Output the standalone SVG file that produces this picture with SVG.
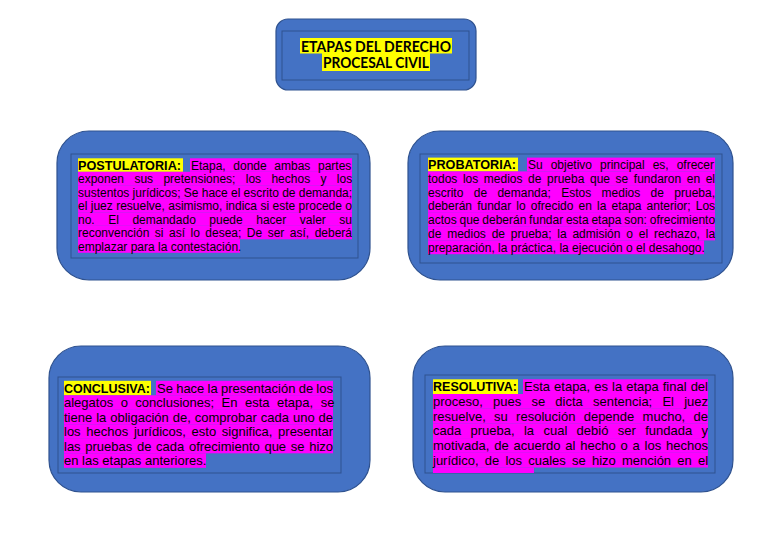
<svg xmlns="http://www.w3.org/2000/svg" width="768" height="543" viewBox="0 0 768 543">
<style>
.box{fill:#4472C4;stroke:#2F528F;stroke-width:1.2}
.inner{fill:none;stroke:#2F528F;stroke-width:1}
.hm{fill:#FF00FF}
.hy{fill:#FFFF00}
.t{font-family:"Liberation Sans",Arial,sans-serif;font-size:12px;fill:#000}
.t13{font-family:"Liberation Sans",Arial,sans-serif;font-size:13px;fill:#000}
.h{font-family:"Liberation Sans",Arial,sans-serif;font-weight:bold;font-size:13.5px;fill:#000}
.ti{font-family:Lato,"Liberation Sans",Arial,sans-serif;font-weight:bold;font-size:15px;fill:#000}
</style>
<rect width="768" height="543" fill="#fff"/>
<g id="connectors"></g>

<g id="title">
<rect class="box" x="276" y="19" width="200" height="71" rx="12"/>
<rect class="inner" x="282" y="31" width="187" height="49"/>
<rect class="hy" x="300" y="38" width="152" height="15.5"/>
<rect class="hy" x="322" y="53" width="108" height="18"/>
<text class="ti" x="301" y="51.5" textLength="150" lengthAdjust="spacingAndGlyphs">ETAPAS DEL DERECHO</text>
<text class="ti" x="323" y="68" textLength="106" lengthAdjust="spacingAndGlyphs">PROCESAL CIVIL</text>
</g>

<g id="postulatoria">
<rect class="box" x="57" y="131" width="313" height="149" rx="32"/>
<rect class="inner" x="71" y="154" width="287" height="104"/>
<rect class="hy" x="78" y="158.3" width="105" height="13.5"/>
<rect class="hm" x="190" y="158.3" width="162" height="13.5"/>
<rect class="hm" x="78" y="171.8" width="274" height="13.5"/>
<rect class="hm" x="78" y="185.3" width="274" height="13.5"/>
<rect class="hm" x="78" y="198.8" width="274" height="13.5"/>
<rect class="hm" x="78" y="212.3" width="274" height="13.5"/>
<rect class="hm" x="78" y="225.8" width="274" height="13.5"/>
<rect class="hm" x="78" y="239.3" width="162" height="13.5"/>
<text class="h" x="78" y="169.5" textLength="103" lengthAdjust="spacingAndGlyphs">POSTULATORIA:</text>
<text class="t" x="191" y="169.5" word-spacing="4.3">Etapa, donde ambas partes</text>
<text class="t" x="78" y="183" word-spacing="7">exponen sus pretensiones; los hechos y los</text>
<text class="t" x="78" y="196.5" word-spacing="-0.1">sustentos jurídicos; Se hace el escrito de demanda;</text>
<text class="t" x="78" y="210" word-spacing="0.07">el juez resuelve, asimismo, indica si este procede o</text>
<text class="t" x="78" y="223.5" word-spacing="10.2">no. El demandado puede hacer valer su</text>
<text class="t" x="78" y="237" word-spacing="2.15">reconvención si así lo desea; De ser así, deberá</text>
<text class="t" x="78" y="250.5">emplazar para la contestación.</text>
</g>

<g id="probatoria">
<rect class="box" x="408" y="131" width="325" height="149" rx="32"/>
<rect class="inner" x="420" y="154" width="302" height="109"/>
<rect class="hy" x="428" y="157.6" width="90" height="13.8"/>
<rect class="hm" x="527" y="157.6" width="188" height="13.8"/>
<rect class="hm" x="428" y="171.4" width="287" height="13.8"/>
<rect class="hm" x="428" y="185.2" width="287" height="13.8"/>
<rect class="hm" x="428" y="199" width="287" height="13.8"/>
<rect class="hm" x="428" y="212.8" width="287" height="13.8"/>
<rect class="hm" x="428" y="226.6" width="287" height="13.8"/>
<rect class="hm" x="428" y="240.4" width="276" height="13.8"/>
<text class="h" x="428" y="169" textLength="88" lengthAdjust="spacingAndGlyphs">PROBATORIA:</text>
<text class="t" x="528" y="169" word-spacing="4.65">Su objetivo principal es, ofrecer</text>
<text class="t" x="428" y="182.8" word-spacing="2.24">todos los medios de prueba que se fundaron en el</text>
<text class="t" x="428" y="196.6" word-spacing="7.03">escrito de demanda; Estos medios de prueba,</text>
<text class="t" x="428" y="210.4" word-spacing="1.78">deberán fundar lo ofrecido en la etapa anterior; Los</text>
<text class="t" x="428" y="224.2" word-spacing="-0.54">actos que deberán fundar esta etapa son: ofrecimiento</text>
<text class="t" x="428" y="238" word-spacing="2.47">de medios de prueba; la admisión o el rechazo, la</text>
<text class="t" x="428" y="251.8">preparación, la práctica, la ejecución o el desahogo.</text>
</g>

<g id="conclusiva">
<rect class="box" x="49" y="346" width="321" height="146" rx="32"/>
<rect class="inner" x="58" y="377" width="283" height="96"/>
<rect class="hy" x="64" y="380.8" width="87" height="14.5"/>
<rect class="hm" x="156" y="380.8" width="177" height="14.5"/>
<rect class="hm" x="64" y="395.3" width="269" height="14.5"/>
<rect class="hm" x="64" y="409.8" width="269" height="14.5"/>
<rect class="hm" x="64" y="424.3" width="269" height="14.5"/>
<rect class="hm" x="64" y="438.8" width="269" height="14.5"/>
<rect class="hm" x="64" y="453.3" width="142" height="14.5"/>
<text class="h" x="64" y="392.5" textLength="86" lengthAdjust="spacingAndGlyphs">CONCLUSIVA:</text>
<text class="t13" x="157" y="392.5" word-spacing="-0.36">Se hace la presentación de los</text>
<text class="t13" x="64" y="407" word-spacing="3.87">alegatos o conclusiones; En esta etapa, se</text>
<text class="t13" x="64" y="421.5" word-spacing="0.34">tiene la obligación de, comprobar cada uno de</text>
<text class="t13" x="64" y="436" word-spacing="2.06">los hechos jurídicos, esto significa, presentar</text>
<text class="t13" x="64" y="450.5" word-spacing="1.06">las pruebas de cada ofrecimiento que se hizo</text>
<text class="t13" x="64" y="465">en las etapas anteriores.</text>
</g>

<g id="resolutiva">
<rect class="box" x="413" y="346" width="320" height="146" rx="32"/>
<rect class="inner" x="425" y="375" width="290" height="98"/>
<rect class="hy" x="433" y="379.3" width="85" height="14.7"/>
<rect class="hm" x="523" y="379.3" width="185" height="14.7"/>
<rect class="hm" x="433" y="394" width="275" height="14.7"/>
<rect class="hm" x="433" y="408.7" width="275" height="14.7"/>
<rect class="hm" x="433" y="423.4" width="275" height="14.7"/>
<rect class="hm" x="433" y="438.1" width="275" height="14.7"/>
<rect class="hm" x="433" y="452.8" width="275" height="14.7"/>
<rect class="hm" x="433" y="467.5" width="101" height="5.5"/>
<text class="h" x="433" y="391.2" textLength="84" lengthAdjust="spacingAndGlyphs">RESOLUTIVA:</text>
<text class="t13" x="524" y="391.2" word-spacing="0.43">Esta etapa, es la etapa final del</text>
<text class="t13" x="433" y="405.9" word-spacing="6.57">proceso, pues se dicta sentencia; El juez</text>
<text class="t13" x="433" y="420.6" word-spacing="4.7">resuelve, su resolución depende mucho, de</text>
<text class="t13" x="433" y="435.3" word-spacing="5.73">cada prueba, la cual debió ser fundada y</text>
<text class="t13" x="433" y="450" word-spacing="1.22">motivada, de acuerdo al hecho o a los hechos</text>
<text class="t13" x="433" y="464.7" word-spacing="2.59">jurídico, de los cuales se hizo mención en el</text>
</g>
</svg>
